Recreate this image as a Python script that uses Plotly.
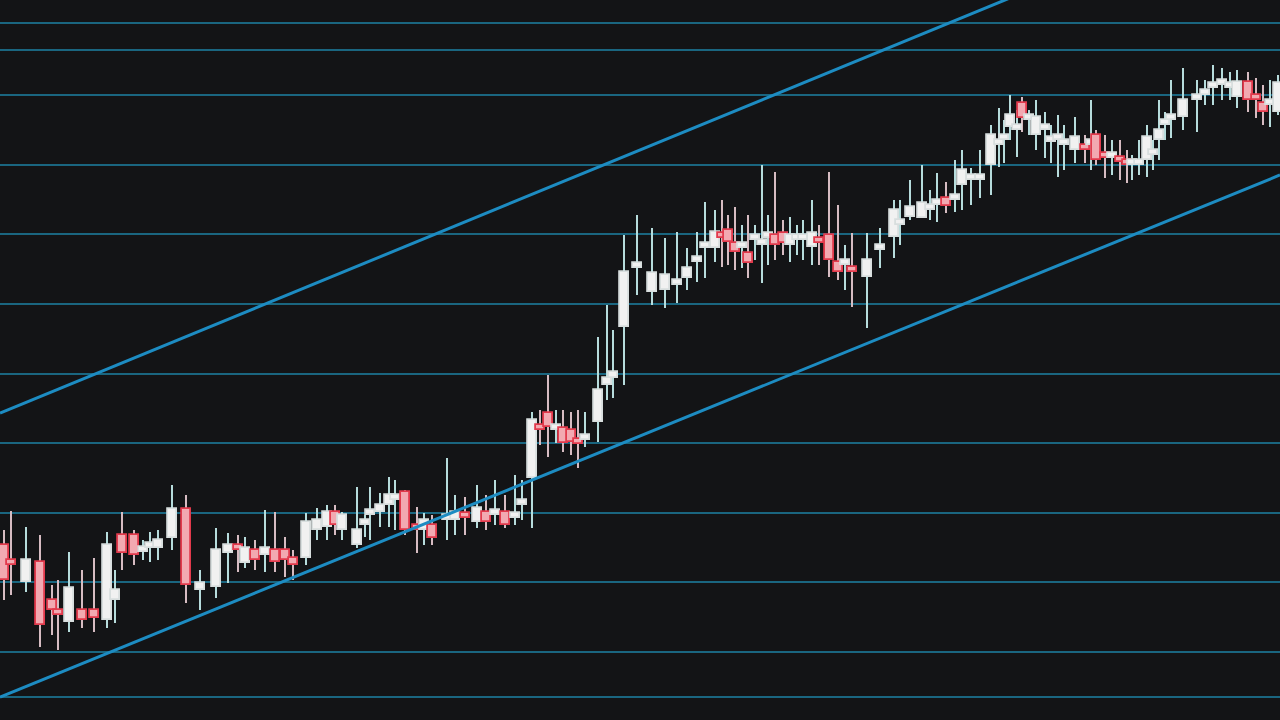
import plotly.graph_objects as go

# ---- data (time index, OHLC in price units) ----
t = [4, 11, 26, 40, 52, 58, 69, 82, 94, 107, 115, 122, 134, 143, 150, 158,
     172, 186, 200, 216, 228, 238, 245, 255, 265, 275, 285, 293, 306, 317,
     327, 335, 342, 357, 365, 370, 380, 389, 395, 405, 417, 424, 432, 447,
     455, 465, 477, 486, 495, 505, 515, 522, 532, 540, 548, 556, 563, 571,
     578, 585, 598, 607, 613, 624, 637, 652, 665, 677, 687, 697, 705, 715,
     722, 728, 735, 742, 748, 755, 762, 768, 775, 783, 790, 797, 803, 812,
     819, 829, 838, 845, 852, 867, 880, 894, 900, 910, 922, 930, 937, 946,
     955, 962, 971, 980, 991, 999, 1004, 1010, 1017, 1022, 1029, 1036, 1045,
     1051, 1058, 1064, 1075, 1085, 1091, 1096, 1105, 1112, 1120, 1127, 1132,
     1139, 1147, 1153, 1159, 1165, 1171, 1183, 1197, 1205, 1213, 1222, 1230,
     1237, 1248, 1256, 1263, 1270, 1278]

open_ = [175, 160, 138, 158, 120, 110, 98, 110, 110, 100, 120, 185, 185, 168, 172, 172,
         182, 211, 130, 133, 167, 175, 157, 170, 165, 170, 170, 162, 162, 190,
         193, 208, 190, 175, 195, 205, 208, 215, 220, 228, 195, 190, 195, 200,
         200, 205, 198, 208, 205, 208, 202, 215, 242, 295, 307, 290, 292, 290,
         280, 280, 298, 335, 342, 393, 452, 428, 430, 435, 442, 458, 472, 472,
         485, 490, 477, 472, 467, 480, 475, 482, 485, 487, 475, 480, 480, 473,
         480, 485, 458, 455, 452, 443, 470, 483, 495, 503, 502, 510, 515, 522,
         520, 535, 540, 540, 555, 575, 580, 593, 590, 617, 600, 585, 590,
         578, 580, 575, 570, 572, 575, 585, 565, 562, 560, 557, 555,
         555, 560, 565, 580, 595, 600, 603, 620, 625, 632, 635, 632,
         623, 638, 622, 617, 615, 608]

high = [190, 209, 193, 185, 135, 140, 168, 150, 162, 188, 150, 208, 190, 180, 188, 190,
        235, 225, 150, 192, 187, 185, 183, 180, 210, 208, 183, 170, 207, 212,
        215, 215, 208, 233, 205, 233, 227, 243, 240, 230, 213, 207, 205, 262,
        225, 223, 235, 225, 240, 225, 245, 240, 308, 310, 345, 310, 310, 308,
        310, 308, 383, 415, 390, 485, 505, 492, 482, 488, 472, 488, 518, 510,
        520, 505, 513, 495, 505, 495, 555, 505, 548, 500, 503, 495, 500, 520,
        495, 548, 515, 475, 487, 487, 492, 520, 520, 540, 555, 530, 547, 538,
        560, 570, 552, 570, 595, 612, 600, 625, 610, 623, 610, 620, 608,
        595, 605, 595, 603, 585, 620, 590, 585, 580, 580, 570, 565,
        580, 595, 580, 620, 608, 640, 652, 640, 640, 655, 652, 648,
        650, 648, 642, 635, 640, 645]

low = [120, 125, 128, 73, 85, 70, 88, 92, 88, 92, 97, 150, 155, 160, 158, 160,
       170, 117, 110, 122, 137, 148, 152, 150, 148, 148, 143, 140, 155, 180,
       180, 185, 180, 172, 183, 180, 193, 193, 190, 185, 167, 175, 175, 180,
       185, 185, 192, 190, 195, 192, 195, 200, 192, 275, 263, 277, 268, 265,
       252, 273, 278, 320, 322, 335, 425, 415, 412, 417, 430, 438, 442, 458,
       453, 455, 450, 452, 442, 460, 437, 455, 460, 465, 458, 465, 460, 455,
       455, 443, 440, 430, 413, 392, 452, 462, 475, 500, 502, 500, 498, 507,
       508, 510, 515, 522, 525, 553, 557, 580, 563, 588, 585, 570, 562,
       557, 543, 550, 557, 557, 550, 555, 542, 545, 540, 537, 540,
       545, 543, 550, 560, 580, 582, 590, 588, 615, 615, 620, 620,
       612, 608, 602, 595, 593, 605]

close = [140, 155, 160, 95, 110, 105, 132, 100, 102, 175, 130, 167, 165, 173, 175, 180,
         211, 135, 137, 170, 175, 170, 172, 160, 172, 158, 160, 155, 198, 200,
         208, 195, 205, 190, 200, 210, 215, 225, 222, 190, 190, 200, 182, 205,
         208, 202, 212, 198, 208, 195, 205, 220, 300, 290, 293, 295, 277, 278,
         276, 283, 330, 342, 348, 448, 455, 447, 445, 438, 452, 462, 475, 488,
         482, 478, 468, 475, 457, 482, 480, 485, 475, 477, 485, 482, 484, 487,
         477, 460, 448, 458, 448, 460, 475, 510, 500, 513, 517, 515, 518, 514,
         522, 550, 544, 545, 585, 578, 583, 605, 592, 602, 602, 603, 593,
         580, 583, 578, 583, 570, 578, 560, 562, 565, 558, 555, 557,
         557, 583, 568, 590, 600, 605, 620, 622, 627, 635, 638, 635,
         638, 620, 620, 608, 620, 637]

# horizontal price levels
levels = [697, 670, 625, 555, 486, 416, 346, 277, 207, 138, 68, 23]

# trend channel anchor points (time, price)
upper_t = [0, 1280]
upper_p = [307, 833]
lower_t = [0, 1280]
lower_p = [23, 545]

# ---- derived ----
bull = [c >= o for o, c in zip(open_, close)]
body_base = [min(o, c) for o, c in zip(open_, close)]
body_h = [max(abs(c - o), 5) for o, c in zip(open_, close)]
wick_h = [h - l for h, l in zip(high, low)]

body_fill = ['#f1f1f1' if b else '#f2a9b1' for b in bull]
body_line = ['#d8dede' if b else '#e23a4c' for b in bull]
wick_col = ['#b6dcdc' if b else '#d6bcc2' for b in bull]

fig = go.Figure()

for lv in levels:
    fig.add_hline(y=lv, line=dict(color='#1a6680', width=2), layer='below')

fig.add_trace(go.Bar(x=t, y=wick_h, base=low, width=2.6,
                     marker=dict(color=wick_col, line=dict(width=0)),
                     hoverinfo='skip'))
fig.add_trace(go.Bar(x=t, y=body_h, base=body_base, width=9,
                     marker=dict(color=body_fill, line=dict(color=body_line, width=1.8)),
                     hoverinfo='skip'))

fig.add_trace(go.Scatter(x=upper_t, y=upper_p, mode='lines',
                         line=dict(color='#1d8cc2', width=3), hoverinfo='skip'))
fig.add_trace(go.Scatter(x=lower_t, y=lower_p, mode='lines',
                         line=dict(color='#1d8cc2', width=3), hoverinfo='skip'))

fig.update_layout(
    width=1280, height=720,
    margin=dict(l=0, r=0, t=0, b=0),
    paper_bgcolor='#131416', plot_bgcolor='#131416',
    showlegend=False, barmode='overlay', bargap=0,
    xaxis=dict(range=[0, 1280], visible=False, fixedrange=True),
    yaxis=dict(range=[0, 720], visible=False, fixedrange=True),
)

fig.write_html("out.html", config={'displayModeBar': False},
               post_script="document.body.style.margin='0';document.body.style.background='#131416';")
